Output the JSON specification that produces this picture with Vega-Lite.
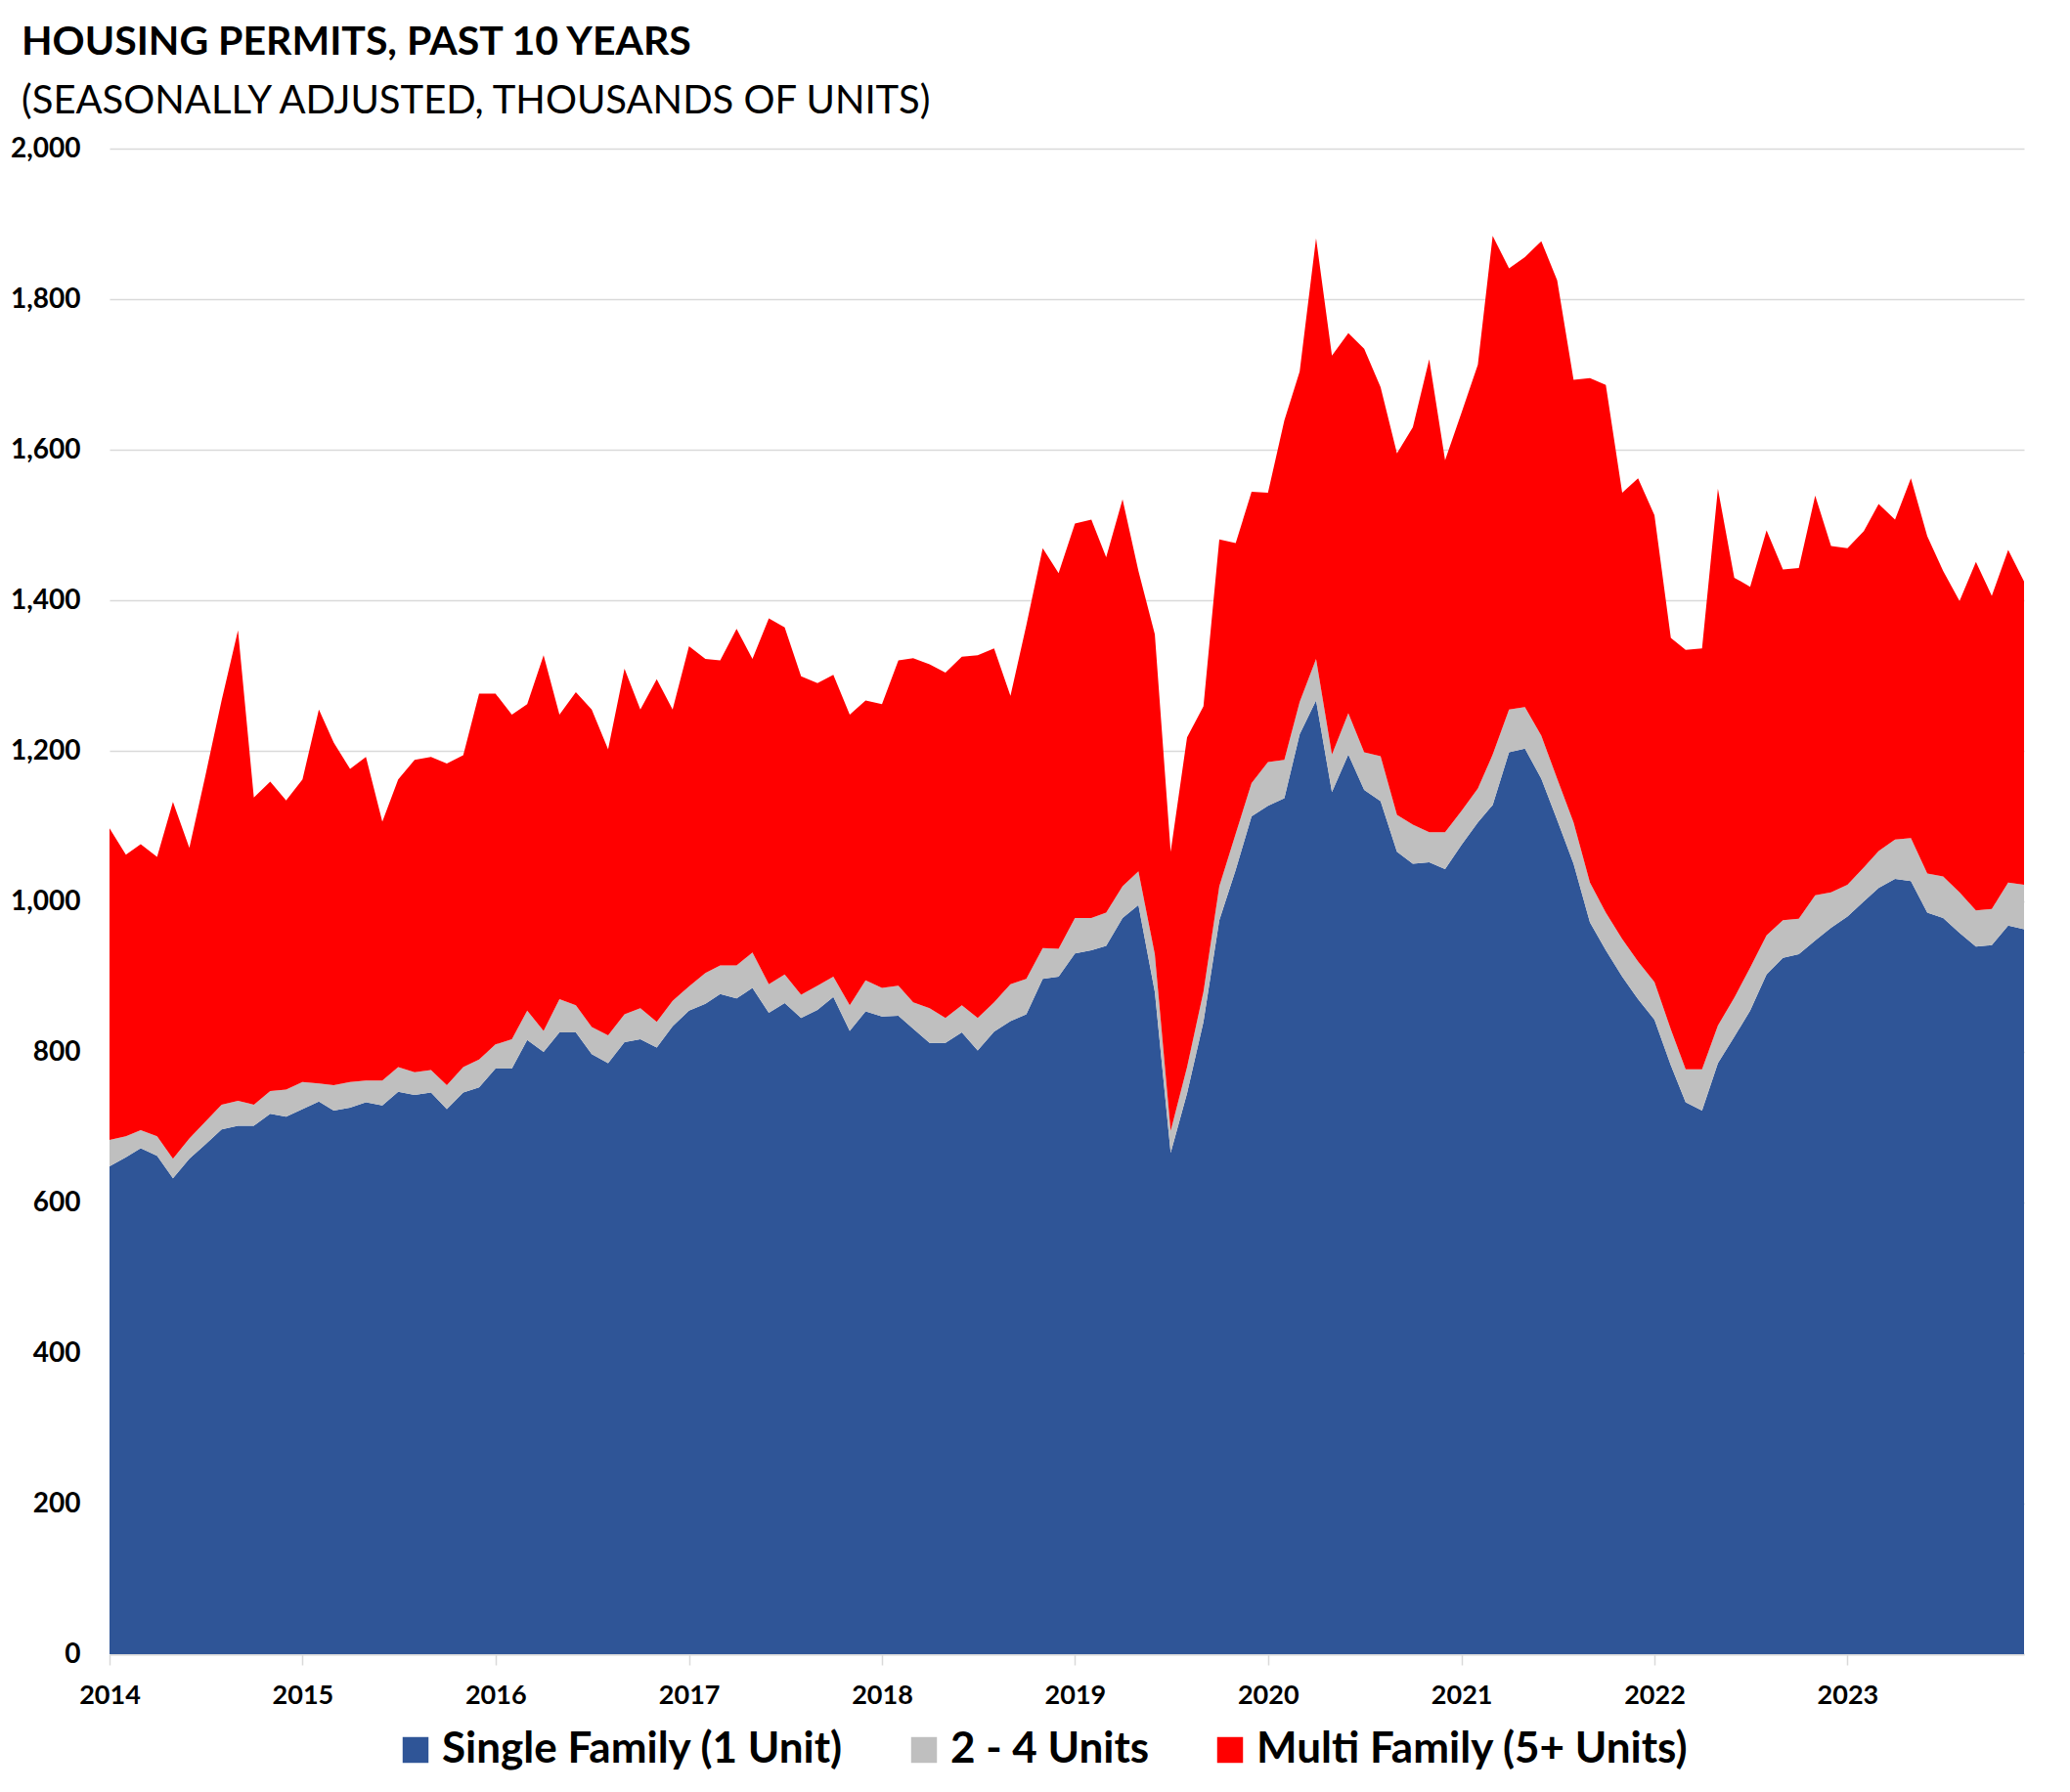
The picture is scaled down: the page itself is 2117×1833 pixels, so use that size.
{
  "$schema": "https://vega.github.io/schema/vega-lite/v6.json",
  "autosize": "none",
  "width": 1958,
  "height": 1540,
  "padding": {"left": 112, "top": 152, "right": 47, "bottom": 141},
  "background": "white",
  "title": {
    "text": "HOUSING PERMITS, PAST 10 YEARS",
    "subtitle": "(SEASONALLY ADJUSTED, THOUSANDS OF UNITS)",
    "anchor": "start",
    "frame": "group",
    "dx": -90,
    "offset": 13,
    "font": "Lato",
    "fontSize": 41,
    "fontWeight": "bold",
    "color": "#000000",
    "subtitleFont": "Lato",
    "subtitleFontSize": 40,
    "subtitleFontWeight": "normal",
    "subtitleColor": "#000000",
    "subtitlePadding": 19
  },
  "data": {
    "values": [
      {"date": "2014-01-01", "single": 648, "twofour": 35, "multi": 414},
      {"date": "2014-02-01", "single": 660, "twofour": 28, "multi": 374},
      {"date": "2014-03-01", "single": 672, "twofour": 24, "multi": 380},
      {"date": "2014-04-01", "single": 662, "twofour": 26, "multi": 371},
      {"date": "2014-05-01", "single": 632, "twofour": 26, "multi": 474},
      {"date": "2014-06-01", "single": 658, "twofour": 27, "multi": 386},
      {"date": "2014-07-01", "single": 677, "twofour": 30, "multi": 459},
      {"date": "2014-08-01", "single": 697, "twofour": 33, "multi": 537},
      {"date": "2014-09-01", "single": 702, "twofour": 33, "multi": 625},
      {"date": "2014-10-01", "single": 702, "twofour": 28, "multi": 408},
      {"date": "2014-11-01", "single": 718, "twofour": 30, "multi": 411},
      {"date": "2014-12-01", "single": 714, "twofour": 36, "multi": 384},
      {"date": "2015-01-01", "single": 724, "twofour": 36, "multi": 402},
      {"date": "2015-02-01", "single": 734, "twofour": 24, "multi": 497},
      {"date": "2015-03-01", "single": 722, "twofour": 34, "multi": 455},
      {"date": "2015-04-01", "single": 726, "twofour": 34, "multi": 416},
      {"date": "2015-05-01", "single": 733, "twofour": 29, "multi": 430},
      {"date": "2015-06-01", "single": 729, "twofour": 33, "multi": 344},
      {"date": "2015-07-01", "single": 747, "twofour": 33, "multi": 382},
      {"date": "2015-08-01", "single": 743, "twofour": 30, "multi": 415},
      {"date": "2015-09-01", "single": 746, "twofour": 30, "multi": 416},
      {"date": "2015-10-01", "single": 724, "twofour": 32, "multi": 427},
      {"date": "2015-11-01", "single": 746, "twofour": 34, "multi": 414},
      {"date": "2015-12-01", "single": 753, "twofour": 37, "multi": 486},
      {"date": "2016-01-01", "single": 778, "twofour": 32, "multi": 466},
      {"date": "2016-02-01", "single": 778, "twofour": 39, "multi": 431},
      {"date": "2016-03-01", "single": 816, "twofour": 39, "multi": 407},
      {"date": "2016-04-01", "single": 800, "twofour": 28, "multi": 499},
      {"date": "2016-05-01", "single": 826, "twofour": 44, "multi": 378},
      {"date": "2016-06-01", "single": 826, "twofour": 36, "multi": 416},
      {"date": "2016-07-01", "single": 797, "twofour": 36, "multi": 422},
      {"date": "2016-08-01", "single": 785, "twofour": 37, "multi": 380},
      {"date": "2016-09-01", "single": 813, "twofour": 37, "multi": 459},
      {"date": "2016-10-01", "single": 817, "twofour": 41, "multi": 397},
      {"date": "2016-11-01", "single": 806, "twofour": 34, "multi": 455},
      {"date": "2016-12-01", "single": 834, "twofour": 34, "multi": 387},
      {"date": "2017-01-01", "single": 855, "twofour": 32, "multi": 452},
      {"date": "2017-02-01", "single": 864, "twofour": 41, "multi": 417},
      {"date": "2017-03-01", "single": 877, "twofour": 38, "multi": 405},
      {"date": "2017-04-01", "single": 871, "twofour": 44, "multi": 447},
      {"date": "2017-05-01", "single": 885, "twofour": 47, "multi": 390},
      {"date": "2017-06-01", "single": 852, "twofour": 38, "multi": 486},
      {"date": "2017-07-01", "single": 865, "twofour": 38, "multi": 461},
      {"date": "2017-08-01", "single": 845, "twofour": 31, "multi": 423},
      {"date": "2017-09-01", "single": 856, "twofour": 32, "multi": 402},
      {"date": "2017-10-01", "single": 873, "twofour": 27, "multi": 401},
      {"date": "2017-11-01", "single": 828, "twofour": 34, "multi": 386},
      {"date": "2017-12-01", "single": 854, "twofour": 41, "multi": 372},
      {"date": "2018-01-01", "single": 847, "twofour": 38, "multi": 377},
      {"date": "2018-02-01", "single": 848, "twofour": 40, "multi": 432},
      {"date": "2018-03-01", "single": 831, "twofour": 35, "multi": 457},
      {"date": "2018-04-01", "single": 812, "twofour": 46, "multi": 457},
      {"date": "2018-05-01", "single": 812, "twofour": 33, "multi": 459},
      {"date": "2018-06-01", "single": 826, "twofour": 36, "multi": 463},
      {"date": "2018-07-01", "single": 802, "twofour": 43, "multi": 482},
      {"date": "2018-08-01", "single": 827, "twofour": 39, "multi": 470},
      {"date": "2018-09-01", "single": 841, "twofour": 49, "multi": 383},
      {"date": "2018-10-01", "single": 850, "twofour": 47, "multi": 470},
      {"date": "2018-11-01", "single": 897, "twofour": 41, "multi": 531},
      {"date": "2018-12-01", "single": 900, "twofour": 37, "multi": 499},
      {"date": "2019-01-01", "single": 931, "twofour": 47, "multi": 524},
      {"date": "2019-02-01", "single": 935, "twofour": 43, "multi": 529},
      {"date": "2019-03-01", "single": 941, "twofour": 44, "multi": 472},
      {"date": "2019-04-01", "single": 978, "twofour": 42, "multi": 514},
      {"date": "2019-05-01", "single": 995, "twofour": 45, "multi": 399},
      {"date": "2019-06-01", "single": 880, "twofour": 50, "multi": 425},
      {"date": "2019-07-01", "single": 666, "twofour": 29, "multi": 371},
      {"date": "2019-08-01", "single": 745, "twofour": 35, "multi": 438},
      {"date": "2019-09-01", "single": 840, "twofour": 40, "multi": 379},
      {"date": "2019-10-01", "single": 975, "twofour": 45, "multi": 461},
      {"date": "2019-11-01", "single": 1042, "twofour": 48, "multi": 386},
      {"date": "2019-12-01", "single": 1113, "twofour": 44, "multi": 387},
      {"date": "2020-01-01", "single": 1127, "twofour": 58, "multi": 358},
      {"date": "2020-02-01", "single": 1137, "twofour": 51, "multi": 451},
      {"date": "2020-03-01", "single": 1222, "twofour": 43, "multi": 439},
      {"date": "2020-04-01", "single": 1267, "twofour": 55, "multi": 559},
      {"date": "2020-05-01", "single": 1145, "twofour": 50, "multi": 530},
      {"date": "2020-06-01", "single": 1195, "twofour": 55, "multi": 505},
      {"date": "2020-07-01", "single": 1148, "twofour": 50, "multi": 536},
      {"date": "2020-08-01", "single": 1133, "twofour": 60, "multi": 490},
      {"date": "2020-09-01", "single": 1066, "twofour": 49, "multi": 480},
      {"date": "2020-10-01", "single": 1050, "twofour": 52, "multi": 528},
      {"date": "2020-11-01", "single": 1052, "twofour": 40, "multi": 628},
      {"date": "2020-12-01", "single": 1043, "twofour": 49, "multi": 494},
      {"date": "2021-01-01", "single": 1075, "twofour": 45, "multi": 529},
      {"date": "2021-02-01", "single": 1105, "twofour": 45, "multi": 563},
      {"date": "2021-03-01", "single": 1128, "twofour": 67, "multi": 689},
      {"date": "2021-04-01", "single": 1198, "twofour": 57, "multi": 586},
      {"date": "2021-05-01", "single": 1203, "twofour": 55, "multi": 598},
      {"date": "2021-06-01", "single": 1163, "twofour": 57, "multi": 657},
      {"date": "2021-07-01", "single": 1108, "twofour": 55, "multi": 662},
      {"date": "2021-08-01", "single": 1050, "twofour": 55, "multi": 588},
      {"date": "2021-09-01", "single": 972, "twofour": 53, "multi": 670},
      {"date": "2021-10-01", "single": 935, "twofour": 50, "multi": 701},
      {"date": "2021-11-01", "single": 900, "twofour": 50, "multi": 593},
      {"date": "2021-12-01", "single": 870, "twofour": 50, "multi": 642},
      {"date": "2022-01-01", "single": 843, "twofour": 50, "multi": 620},
      {"date": "2022-02-01", "single": 782, "twofour": 48, "multi": 520},
      {"date": "2022-03-01", "single": 733, "twofour": 44, "multi": 557},
      {"date": "2022-04-01", "single": 722, "twofour": 55, "multi": 559},
      {"date": "2022-05-01", "single": 785, "twofour": 50, "multi": 713},
      {"date": "2022-06-01", "single": 820, "twofour": 52, "multi": 558},
      {"date": "2022-07-01", "single": 855, "twofour": 57, "multi": 506},
      {"date": "2022-08-01", "single": 903, "twofour": 52, "multi": 538},
      {"date": "2022-09-01", "single": 925, "twofour": 50, "multi": 466},
      {"date": "2022-10-01", "single": 930, "twofour": 47, "multi": 466},
      {"date": "2022-11-01", "single": 948, "twofour": 60, "multi": 531},
      {"date": "2022-12-01", "single": 965, "twofour": 47, "multi": 460},
      {"date": "2023-01-01", "single": 980, "twofour": 42, "multi": 447},
      {"date": "2023-02-01", "single": 1000, "twofour": 45, "multi": 447},
      {"date": "2023-03-01", "single": 1018, "twofour": 49, "multi": 461},
      {"date": "2023-04-01", "single": 1030, "twofour": 52, "multi": 425},
      {"date": "2023-05-01", "single": 1027, "twofour": 57, "multi": 478},
      {"date": "2023-06-01", "single": 985, "twofour": 52, "multi": 448},
      {"date": "2023-07-01", "single": 978, "twofour": 55, "multi": 406},
      {"date": "2023-08-01", "single": 958, "twofour": 54, "multi": 387},
      {"date": "2023-09-01", "single": 940, "twofour": 48, "multi": 463},
      {"date": "2023-10-01", "single": 942, "twofour": 48, "multi": 416},
      {"date": "2023-11-01", "single": 968, "twofour": 57, "multi": 442},
      {"date": "2023-12-01", "single": 963, "twofour": 59, "multi": 403}
    ]
  },
  "transform": [
    {"fold": ["single", "twofour", "multi"], "as": ["series", "value"]},
    {"window": [{"op": "row_number", "as": "rank"}], "groupby": ["date"]}
  ],
  "mark": {"type": "area", "interpolate": "linear", "strokeWidth": 0},
  "encoding": {
    "x": {
      "field": "date",
      "type": "temporal",
      "scale": {"type": "utc", "nice": false},
      "axis": {
        "title": null,
        "format": "%Y",
        "tickCount": {"interval": "year", "step": 1},
        "grid": false,
        "domain": true,
        "domainColor": "#D9D9D9",
        "domainWidth": 2,
        "ticks": true,
        "tickColor": "#D9D9D9",
        "tickWidth": 1.5,
        "tickSize": 11,
        "labelFlush": false,
        "labelFont": "Lato",
        "labelFontSize": 27,
        "labelFontWeight": "bold",
        "labelColor": "#000000",
        "labelPadding": 18
      }
    },
    "y": {
      "field": "value",
      "type": "quantitative",
      "stack": "zero",
      "scale": {"domain": [0, 2000], "nice": false},
      "axis": {
        "title": null,
        "values": [0, 200, 400, 600, 800, 1000, 1200, 1400, 1600, 1800, 2000],
        "format": ",.0f",
        "grid": true,
        "gridColor": "#D9D9D9",
        "gridWidth": 1.5,
        "domain": false,
        "ticks": false,
        "labelFont": "Lato",
        "labelFontSize": 28,
        "labelFontWeight": "bold",
        "labelColor": "#000000",
        "labelPadding": 30
      }
    },
    "color": {
      "field": "series",
      "type": "nominal",
      "scale": {
        "domain": ["single", "twofour", "multi"],
        "range": ["#2F5597", "#BFBFBF", "#FF0000"]
      },
      "legend": {
        "title": null,
        "orient": "none",
        "legendX": 291,
        "legendY": 1616,
        "direction": "horizontal",
        "symbolType": "square",
        "symbolSize": 700,
        "symbolStrokeWidth": 0,
        "symbolOpacity": 1,
        "labelFont": "Lato",
        "labelFontSize": 44,
        "labelFontWeight": "bold",
        "labelColor": "#000000",
        "labelOffset": 5,
        "labelLimit": 1000,
        "columnPadding": 60,
        "labelExpr": "datum.value == 'single' ? 'Single Family (1 Unit)' : datum.value == 'twofour' ? '2 - 4 Units' : 'Multi Family (5+ Units)'"
      }
    },
    "order": {"field": "rank", "type": "quantitative", "sort": "ascending"}
  },
  "config": {
    "view": {"stroke": null}
  }
}
